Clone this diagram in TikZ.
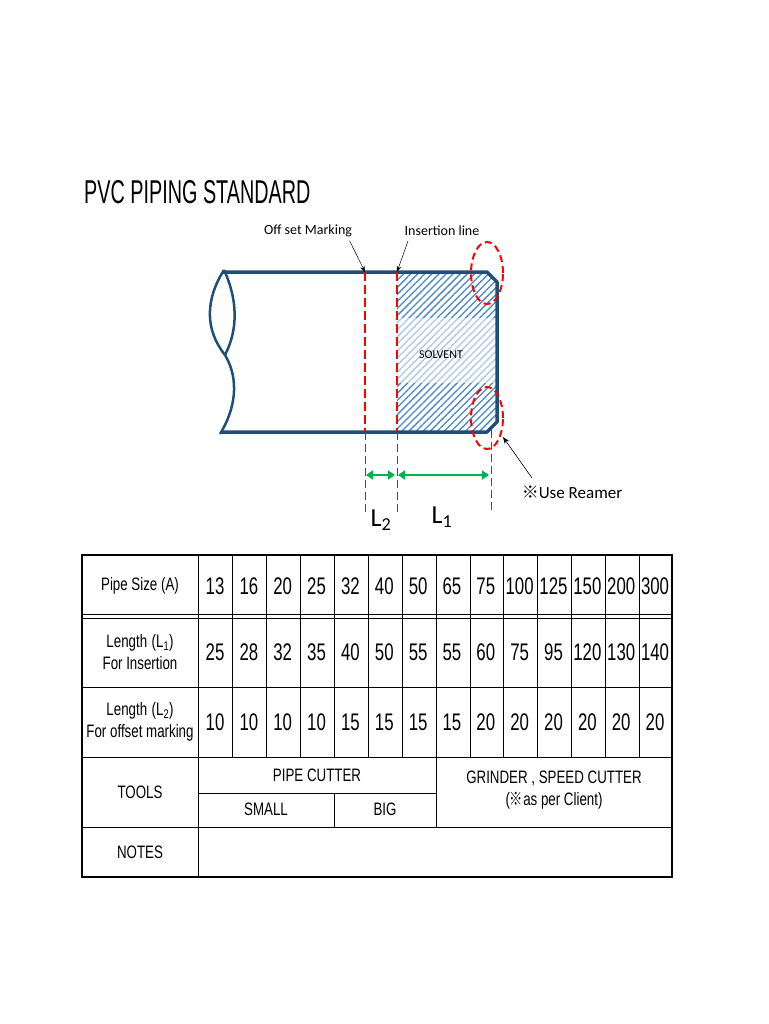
\documentclass[tikz,border=0pt]{standalone}
\usepackage{fontspec}
\usepackage{graphicx}
\setmainfont{Liberation Sans}
\newfontfamily\cjk{Noto Sans CJK JP}
\newfontfamily\carl{Carlito}
\newcommand{\nar}[1]{\scalebox{0.7}[1]{#1}}
\newcommand{\narr}[1]{\scalebox{0.74}[1]{#1}}
\usetikzlibrary{patterns,patterns.meta,arrows.meta}
\definecolor{pipeblue}{HTML}{1F4E79}
\definecolor{hatch}{HTML}{4A86C8}
\definecolor{grn}{HTML}{00B050}
\begin{document}
\begin{tikzpicture}[x=1pt,y=-1pt,
  pipe/.style={draw=pipeblue,line width=3.5pt},
  reddash/.style={draw=red,line width=2.5pt,dash pattern=on 9pt off 4pt},
  redthin/.style={draw=red,line width=0.8pt,dash pattern=on 8pt off 4pt},
  grnarrow/.style={draw=grn,line width=2.5pt,{Triangle[length=7pt,width=9pt]}-{Triangle[length=7pt,width=9pt]}},
  lbl/.style={font=\carl\fontsize{14}{16}\selectfont},
  cell/.style={font=\fontsize{18}{22}\selectfont,align=center},
  num/.style={font=\fontsize{24}{26}\selectfont},
  grid/.style={draw=black,line width=0.6pt}]
\useasboundingbox (0,0) rectangle (768,1024);
\node[anchor=west,font=\fontsize{33}{36}\selectfont,inner sep=0pt] (title) at (84,192) {\scalebox{0.6}[1]{PVC PIPING STANDARD}};
% hatched solvent region
\fill[pattern={Lines[angle=45,distance=5pt,line width=1.3pt]},pattern color=hatch] (397,272) -- (487,272) -- (497,282) -- (497,422) -- (487,432) -- (397,432) -- cycle;
\fill[white,opacity=0.55] (397,318) rectangle (496,383);
\node[font=\carl\fontsize{12}{14}\selectfont] (solv) at (441,355) {SOLVENT};
% pipe
\draw[pipe,line join=round] (222,272) -- (487,272) -- (497,282) -- (497,422) -- (487,432) -- (222,432);
\draw[pipe,line width=2.5pt] (224,270) .. controls (205,300) and (205,330) .. (225,355) .. controls (240,380) and (235,410) .. (220,434);
\draw[pipe,line width=2.5pt] (224,270) .. controls (238,300) and (238,330) .. (225,355);
% red lines
\coordinate (o1) at (365,272); \coordinate (o2) at (365,432);
\coordinate (i1) at (397,272); \coordinate (i2) at (397,432);
\draw[reddash] (o1) -- (o2);
\draw[reddash] (i1) -- (i2);
\coordinate (o3) at (365,512); \coordinate (i3) at (397,512);
\coordinate (e1) at (491,430); \coordinate (e3) at (491,512);
\draw[redthin] (o2) -- (o3);
\draw[redthin] (i2) -- (i3);
\draw[redthin] (e1) -- (e3);
\draw[red,line width=2pt,dash pattern=on 7pt off 4pt] (487,273) ellipse [x radius=16pt,y radius=31pt];
\draw[red,line width=2pt,dash pattern=on 7pt off 4pt] (487,418) ellipse [x radius=16pt,y radius=31pt];
% green arrows
\coordinate (a1) at (366,475); \coordinate (a2) at (395,475);
\coordinate (b1) at (398,475); \coordinate (b2) at (489,475);
\draw[grnarrow] (a1) -- (a2);
\draw[grnarrow] (b1) -- (b2);
\node[font=\carl\fontsize{26}{28}\selectfont] (L2) at (381,520) {L\textsubscript{2}};
\node[font=\carl\fontsize{26}{28}\selectfont] (L1) at (442,517) {L\textsubscript{1}};
% labels
\node[lbl] (off) at (308,231) {Off set Marking};
\node[lbl] (ins) at (442,231) {Insertion line};
\draw[-{Stealth[length=6pt]},line width=0.5pt] (off.south east) ++(-6,0) -- (o1);
\draw[-{Stealth[length=6pt]},line width=0.5pt] (408,241) -- (i1);
\node[font=\carl\fontsize{17}{20}\selectfont] (ream) at (572,492) {{\cjk ※}Use Reamer};
\draw[-{Stealth[length=7pt]},line width=0.6pt] (532,478) -- (503,437);
% table
\foreach \x in {198,232,266,300,334,368,402,436,470,503,537,571,605,639} {\draw[grid] (\x,555) -- (\x,757);}
\draw[grid] (82,614) -- (672,614);
\draw[grid] (82,618) -- (672,618);
\draw[grid] (82,687) -- (672,687);
\draw[grid] (82,757) -- (672,757);
\draw[grid] (82,827) -- (672,827);
\draw[grid] (198,757) -- (198,877);
\draw[grid] (198,793) -- (436,793);
\draw[grid] (334,793) -- (334,827);
\draw[grid] (436,757) -- (436,827);
\draw[line width=1.8pt] (82,555) rectangle (672,877);
\node[cell] (h0) at (140,586) {\narr{Pipe Size (A)}};
\node[cell] (h1) at (140,652) {\narr{Length\,\,(L\textsubscript{1})}\\\narr{For Insertion}};
\node[cell] (h2) at (140,722) {\narr{Length\,\,(L\textsubscript{2})}\\\narr{For offset marking}};
\node[cell] (h3) at (140,792) {\narr{TOOLS}};
\node[cell] (h4) at (140,852) {\narr{NOTES}};
\foreach \v [count=\i from 0] in {13,16,20,25,32,40,50,65,75,100,125,150,200,300} {
  \node[num] at (215+33.85*\i,586) {\nar{\v}};}
\foreach \v [count=\i from 0] in {25,28,32,35,40,50,55,55,60,75,95,120,130,140} {
  \node[num] at (215+33.85*\i,652) {\nar{\v}};}
\foreach \v [count=\i from 0] in {10,10,10,10,15,15,15,15,20,20,20,20,20,20} {
  \node[num] at (215+33.85*\i,722) {\nar{\v}};}
\node[cell] (pc) at (317,775) {\narr{PIPE CUTTER}};
\node[cell] (sm) at (266,809) {\narr{SMALL}};
\node[cell] (bg) at (385,809) {\narr{BIG}};
\node[cell] (gr) at (554,790) {\narr{GRINDER , SPEED CUTTER}\\\narr{({\cjk ※}as per Client)}};
\end{tikzpicture}
\end{document}
